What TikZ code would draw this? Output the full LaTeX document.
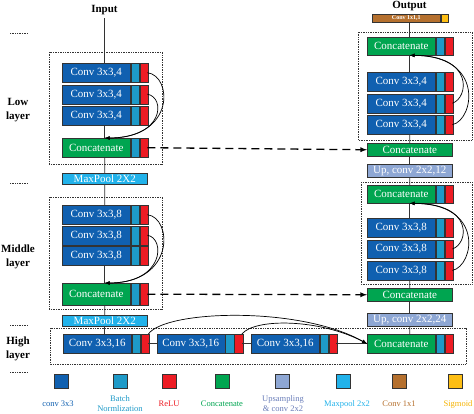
\documentclass[tikz,border=0pt]{standalone}
\usepackage{fontspec}
\setmainfont{Liberation Serif}
\usetikzlibrary{calc}

\definecolor{convblue}{RGB}{16,96,176}
\definecolor{bncyan}{RGB}{30,154,200}
\definecolor{relured}{RGB}{237,28,36}
\definecolor{catgreen}{RGB}{0,165,80}
\definecolor{upblue}{RGB}{142,167,212}
\definecolor{uptext}{RGB}{105,125,185}
\definecolor{poolblue}{RGB}{33,178,234}
\definecolor{onebrown}{RGB}{181,112,46}
\definecolor{sigyellow}{RGB}{253,190,20}
\definecolor{sigtext}{RGB}{245,178,0}

\tikzset{
  part/.style={draw=black!80,line width=0.5pt,inner sep=0pt,anchor=north west,text=white,font=\fontsize{11}{11}\selectfont},
  dotbox/.style={draw=black!80,line width=0.7pt,densely dotted},
  link/.style={draw=black!80,line width=0.6pt},
  skipline/.style={line width=0.7pt,->},
  bridge/.style={line width=1.3pt,dash pattern=on 8pt off 5pt,->},
  lbl/.style={font=\bfseries\fontsize{11}{14}\selectfont,align=center},
  swatch/.style={draw=black!80,line width=0.6pt,minimum size=14pt,inner sep=0pt},
  swatchtext/.style={font=\fontsize{8.5}{10}\selectfont,align=center},
}

% conv block: name, x, y, height, text, colour
\newcommand{\convunit}[6]{%
  \node[inner sep=0pt,anchor=north west,minimum width=85pt,minimum height=#4pt] (#1) at (#2,#3) {};
  \node[part,fill=#6,minimum width=68pt,minimum height=#4pt] (#1m) at (#1.north west) {#5};
  \node[part,fill=bncyan,minimum width=8.5pt,minimum height=#4pt] (#1b) at (#1m.north east) {};
  \node[part,fill=relured,minimum width=8.5pt,minimum height=#4pt] (#1r) at (#1b.north east) {};
}

\begin{document}
\begin{tikzpicture}[x=1pt,y=-1pt,>=latex]
    \useasboundingbox (0,0) rectangle (474,413);
    % dotted frames
    \draw[dotbox] (49,52) rectangle (162,164);
    \draw[dotbox] (49,197) rectangle (162,309);
    \draw[dotbox] (50,328) rectangle (466,364);
    \draw[dotbox] (358,32) rectangle (472,140);
    \draw[dotbox] (361,182) rectangle (472,284);
    \foreach \yp in {33,183,325,372}{\draw[dotbox] (10,\yp) -- (28,\yp);}
    \node[lbl] (low) at (18,110) {Low\\layer};
    \node[lbl] (middle) at (18,256.5) {Middle\\layer};
    \node[lbl] (high) at (18,349) {High\\layer};

    % left column
    \node[lbl] (input) at (104.5,10) {Input};
    \convunit{l1}{62}{63}{19}{Conv 3x3,4}{convblue}
    \convunit{l2}{62}{84.5}{19}{Conv 3x3,4}{convblue}
    \convunit{l3}{62}{106}{19}{Conv 3x3,4}{convblue}
    \convunit{lc}{62}{138}{19}{Concatenate}{catgreen}
    \node[part,fill=poolblue,minimum width=85pt,minimum height=11pt] (mp1) at (62,173) {MaxPool 2X2};
    \convunit{m1}{62}{205}{19}{Conv 3x3,8}{convblue}
    \convunit{m2}{62}{225.5}{19}{Conv 3x3,8}{convblue}
    \convunit{m3}{62}{246}{19}{Conv 3x3,8}{convblue}
    \convunit{mc}{62}{283}{22}{Concatenate}{catgreen}
    \node[part,fill=poolblue,minimum width=85pt,minimum height=11pt] (mp2) at (62,315) {MaxPool 2X2};
    \convunit{h1}{63}{334}{19}{Conv 3x3,16}{convblue}
    \convunit{h2}{156.5}{334}{19}{Conv 3x3,16}{convblue}
    \convunit{h3}{251}{334}{19}{Conv 3x3,16}{convblue}
    \convunit{hc}{367}{334}{19}{Concatenate}{catgreen}

    % right column
    \node[lbl] (output) at (409.5,6) {Output};
    \node[part,fill=onebrown,minimum width=68pt,minimum height=8pt,font=\bfseries\fontsize{6}{6}\selectfont] (cv1) at (372,14) {Conv 1x1,1};
    \node[part,fill=sigyellow,minimum width=7pt,minimum height=8pt] (sg1) at (cv1.north east) {};
    \convunit{oc}{367}{37}{18}{Concatenate}{catgreen}
    \convunit{o1}{367}{72}{19}{Conv 3x3,4}{convblue}
    \convunit{o2}{367}{93.5}{19}{Conv 3x3,4}{convblue}
    \convunit{o3}{367}{115}{19}{Conv 3x3,4}{convblue}
    \node[part,fill=catgreen,minimum width=85pt,minimum height=13pt] (j1) at (367,143) {Concatenate};
    \node[part,fill=upblue,minimum width=85pt,minimum height=13pt] (up1) at (367,164) {Up, conv 2x2,12};
    \convunit{nc}{367}{185}{18}{Concatenate}{catgreen}
    \convunit{n1}{367}{218}{18.5}{Conv 3x3,8}{convblue}
    \convunit{n2}{367}{239.5}{18.5}{Conv 3x3,8}{convblue}
    \convunit{n3}{367}{261}{18.5}{Conv 3x3,8}{convblue}
    \node[part,fill=catgreen,minimum width=85pt,minimum height=13pt] (j2) at (367,288) {Concatenate};
    \node[part,fill=upblue,minimum width=85pt,minimum height=13pt] (up2) at (367,313) {Up, conv 2x2,24};

    % straight links
    \draw[link] (input.south) -- (input.south |- l1.north);
    \draw[link] (l3.south) -- (lc.north);
    \draw[link] (lc.south) -- (mp1.north);
    \draw[link] (mp1.south) -- (m1.north);
    \draw[link] (m3.south) -- (mc.north);
    \draw[link] (mc.south) -- (mp2.north);
    \draw[link] (mp2.south) -- (mp2.south |- h1.north);
    \draw[link] (h1.east) -- (h2.west);
    \draw[link] (h2.east) -- (h3.west);
    \draw[link] (h3.east) -- (hc.west);
    \draw[link] (oc.north) -- (oc.north |- cv1.south);
    \draw[link] (oc.south) -- (o1.north);
    \draw[link] (o3.south) -- (j1.north);
    \draw[link] (j1.south) -- (up1.north);
    \draw[link] (up1.south) -- (nc.north);
    \draw[link] (nc.south) -- (n1.north);
    \draw[link] (n3.south) -- (j2.north);
    \draw[link] (j2.south) -- (up2.north);
    \draw[link] (up2.south) -- (hc.north);

    % skip curves
    \draw[skipline] (l1.east) .. controls ($(l1.east)+(25,3)$) and ($(lc.north)+(71,0)$) .. (lc.north);
    \draw[skipline] (l2.east) .. controls ($(l2.east)+(18,3)$) and ($(lc.north)+(60,0)$) .. (lc.north);
    \draw[skipline] (m1.east) .. controls ($(m1.east)+(25,3)$) and ($(mc.north)+(71,0)$) .. (mc.north);
    \draw[skipline] (m2.east) .. controls ($(m2.east)+(18,3)$) and ($(mc.north)+(60,0)$) .. (mc.north);
    \draw[skipline] (o2.east) .. controls ($(o2.east)+(16,-5)$) and ($(oc.south)+(65,0)$) .. (oc.south);
    \draw[skipline] (o3.east) .. controls ($(o3.east)+(22,-5)$) and ($(oc.south)+(75,0)$) .. (oc.south);
    \draw[skipline] (n2.east) .. controls ($(n2.east)+(16,-5)$) and ($(nc.south)+(65,0)$) .. (nc.south);
    \draw[skipline] (n3.east) .. controls ($(n3.east)+(22,-5)$) and ($(nc.south)+(75,0)$) .. (nc.south);
    \draw[skipline] (h1.north east) .. controls ($(h1.north east)+(17,-24)$) and ($(hc.west)+(-67,-38)$) .. (hc.west);
    \draw[skipline] (h2.north east) .. controls ($(h2.north east)+(13,-16)$) and ($(hc.west)+(-47,-25)$) .. (hc.west);

    % dashed bridges
    \draw[bridge] (lc.east) -- (j1.west);
    \draw[bridge] (mc.east) -- (j2.west);

    % legend
    \foreach \xs/\xt/\cl/\tc/\tx [count=\i] in {61/58/convblue/convblue/conv 3x3, 120.5/120/bncyan/bncyan/{Batch\\Normlization}, 169.5/169/relured/relured/ReLU, 222.5/222/catgreen/catgreen/Concatenate, 282.5/283/upblue/uptext/{Upsampling\\\& conv 2x2}, 343.5/347/poolblue/poolblue/Maxpool 2x2, 399.5/399/onebrown/onebrown/Conv 1x1, 455.5/458/sigyellow/sigtext/Sigmoid}{
        \node[swatch,fill=\cl] (sq\i) at (\xs,381) {};
        \node[swatchtext,text=\tc] (tx\i) at (\xt,404) {\tx};
    }
\end{tikzpicture}
\end{document}
